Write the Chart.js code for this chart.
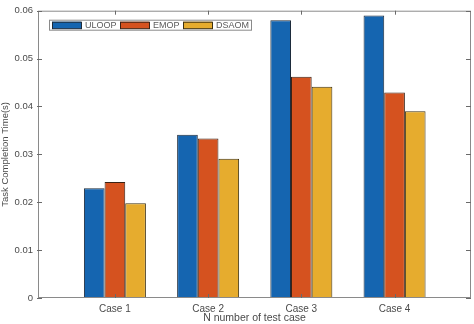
<!DOCTYPE html>
<html>
<head>
<meta charset="utf-8">
<script src="https://cdn.jsdelivr.net/npm/chart.js@4/dist/chart.umd.min.js"></script>
<style>
html,body{margin:0;padding:0;background:#fff;}
#wrap{width:474px;height:324px;position:relative;}
</style>
</head>
<body>
<div id="wrap"><canvas id="c" width="474" height="324"></canvas></div>
<script>
const categories = ['Case 1', 'Case 2', 'Case 3', 'Case 4'];
const seriesNames = ['ULOOP', 'EMOP', 'DSAOM'];
const uloop = [0.0229, 0.0341, 0.0580, 0.0590];
const emop  = [0.0242, 0.0333, 0.0462, 0.0429];
const dsaom = [0.0198, 0.0291, 0.0441, 0.0390];
const yTicks = [0, 0.01, 0.02, 0.03, 0.04, 0.05, 0.06];

const colors = ['#1565b0', '#d5521f', '#e6ac2e'];
const borders = ['#1e2b3a', '#3a2215', '#3d3010'];
const seriesValues = [uloop, emop, dsaom];

const datasets = seriesNames.map((name, i) => ({
  label: name,
  data: seriesValues[i].map((v, j) => ({x: j + 1, y: v})),
  backgroundColor: colors[i],
  borderColor: borders[i],
  borderWidth: 1,
  borderSkipped: false,
  barPercentage: 1.0,
  categoryPercentage: 0.665
}));

const FONT = '"Liberation Sans", Arial, sans-serif';
const TXT = '#4a4a4a';

const framePlugin = {
  id: 'frame',
  afterDraw(chart) {
    const {ctx, chartArea: a, scales} = chart;
    ctx.save();
    ctx.strokeStyle = '#8a8a8a';
    ctx.lineWidth = 1;
    ctx.strokeRect(a.left + 0.5, a.top + 0.5, a.right - a.left - 1, a.bottom - a.top - 1);
    ctx.strokeStyle = '#6a6a6a';
    ctx.beginPath();
    scales.y.ticks.forEach(t => {
      const y = Math.round(scales.y.getPixelForValue(t.value)) + 0.5;
      ctx.moveTo(a.left - 1, y); ctx.lineTo(a.left + 4, y);
      ctx.moveTo(a.right, y); ctx.lineTo(a.right - 5, y);
    });
    scales.x.ticks.forEach(t => {
      const x = Math.round(scales.x.getPixelForValue(t.value)) + 0.5;
      ctx.moveTo(x, a.top); ctx.lineTo(x, a.top + 4);
      ctx.moveTo(x, a.bottom); ctx.lineTo(x, a.bottom - 4);
    });
    ctx.stroke();

    // legend box
    const lx = a.left + 11, ly = a.top + 9, lw = 202, lh = 10;
    ctx.fillStyle = '#ffffff';
    ctx.fillRect(lx, ly, lw, lh);
    ctx.strokeStyle = '#8a8a8a';
    ctx.strokeRect(lx + 0.5, ly + 0.5, lw, lh);
    const offs = [3, 71, 134];
    ctx.font = '9px ' + FONT;
    ctx.textBaseline = 'middle';
    ctx.textAlign = 'left';
    chart.data.datasets.forEach((ds, i) => {
      const sx = lx + offs[i];
      ctx.fillStyle = ds.backgroundColor;
      ctx.fillRect(sx, ly + 2, 29, 7);
      ctx.strokeStyle = ds.borderColor;
      ctx.strokeRect(sx + 0.5, ly + 2.5, 29, 6.5);
      ctx.fillStyle = '#5a5a5a';
      ctx.fillText(ds.label, sx + 33, ly + 6);
    });
    ctx.restore();
  }
};

new Chart(document.getElementById('c'), {
  type: 'bar',
  data: { datasets },
  options: {
    responsive: false,
    animation: false,
    devicePixelRatio: 1,
    layout: { padding: { top: 4, right: 3, left: 0, bottom: 0 } },
    plugins: { legend: { display: false }, tooltip: { enabled: false } },
    scales: {
      x: {
        type: 'linear',
        offset: false,
        bounds: 'ticks',
        min: 0.175,
        max: 4.82,
        grid: { display: false, drawTicks: false, offset: false },
        border: { display: false },
        afterBuildTicks(scale) { scale.ticks = categories.map((c, i) => ({ value: i + 1 })); },
        afterFit(scale) { scale.height = 26; },
        ticks: {
          autoSkip: false,
          maxRotation: 0,
          padding: 5,
          color: TXT,
          font: { family: FONT, size: 10 },
          callback: (v) => categories[Math.round(v) - 1]
        },
        title: {
          display: true,
          text: 'N number of test case',
          color: TXT,
          font: { family: FONT, size: 10.5 },
          padding: { top: 0, bottom: 0 }
        }
      },
      y: {
        min: 0,
        max: 0.06,
        grid: { display: false, drawTicks: false },
        border: { display: false },
        afterBuildTicks(scale) { scale.ticks = yTicks.map(v => ({ value: v })); },
        afterFit(scale) { scale.width = 38; },
        ticks: {
          padding: 5,
          color: TXT,
          font: { family: FONT, size: 9.5 },
          callback: (v) => String(+v.toFixed(2))
        },
        title: {
          display: true,
          text: 'Task Completion Time(s)',
          color: TXT,
          font: { family: FONT, size: 9.5 },
          padding: { top: 0, bottom: 0 }
        }
      }
    }
  },
  plugins: [framePlugin]
});
</script>
</body>
</html>
